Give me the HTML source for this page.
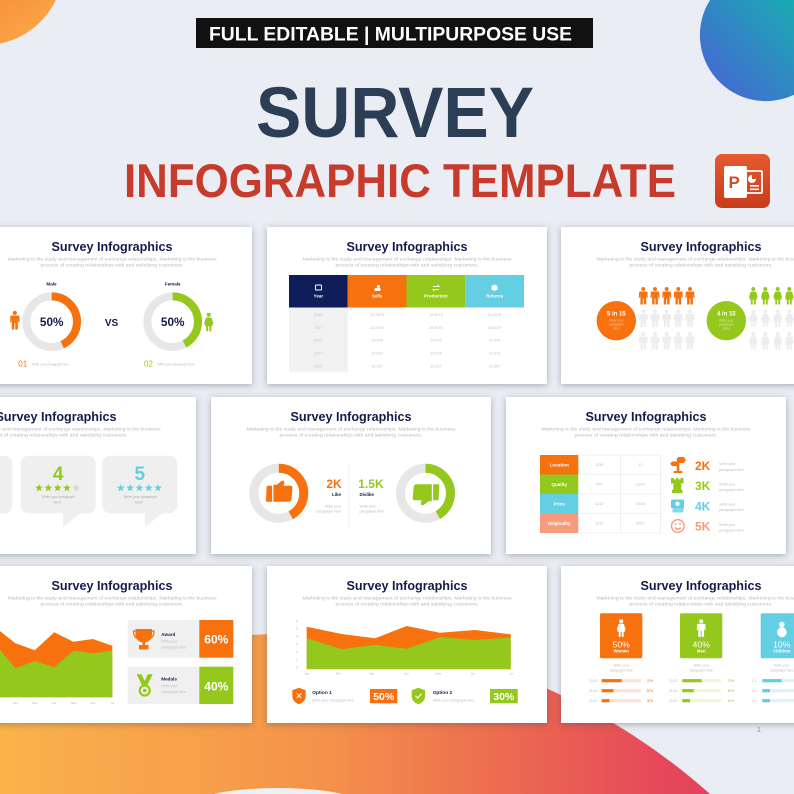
<!DOCTYPE html>
<html><head><meta charset="utf-8">
<style>
html,body{margin:0;padding:0;background:#eaedf4;overflow:hidden;width:794px;height:794px;}
svg{display:block;}
text{font-family:"Liberation Sans",Arial,sans-serif;}
</style></head><body>
<svg width="794" height="794" viewBox="0 0 794 794" xmlns="http://www.w3.org/2000/svg">
<defs>
  <linearGradient id="gBot" gradientUnits="userSpaceOnUse" x1="0" y1="0" x2="720" y2="0">
    <stop offset="0" stop-color="#fbb34b"/>
    <stop offset="0.45" stop-color="#f4924a"/>
    <stop offset="0.7" stop-color="#ec6b50"/>
    <stop offset="0.92" stop-color="#e5485a"/>
    <stop offset="1" stop-color="#e2415b"/>
  </linearGradient>
  <linearGradient id="gOr" x1="0" y1="0" x2="1" y2="1">
    <stop offset="0" stop-color="#f7923c"/>
    <stop offset="1" stop-color="#fbae4a"/>
  </linearGradient>
  <linearGradient id="gBl" x1="0" y1="1" x2="1" y2="0">
    <stop offset="0" stop-color="#4b5fd8"/>
    <stop offset="1" stop-color="#1aabb2"/>
  </linearGradient>
  <linearGradient id="gPP" x1="0" y1="0" x2="0" y2="1">
    <stop offset="0" stop-color="#e65a30"/>
    <stop offset="1" stop-color="#c73d1c"/>
  </linearGradient>
  <filter id="sh" x="-10%" y="-15%" width="120%" height="130%"><feDropShadow dx="0" dy="1.5" stdDeviation="3.5" flood-color="#3e4556" flood-opacity="0.4"/></filter>
  <symbol id="man" viewBox="0 0 10 20"><circle cx="5" cy="2.2" r="2.2"/><path d="M1.2,5 H8.8 Q9.6,5 9.7,6 L10,12 H8.6 L8.2,8 V19.5 H5.5 V13 H4.5 V19.5 H1.8 V8 L1.4,12 H0 L0.3,6 Q0.4,5 1.2,5 Z"/></symbol>
  <symbol id="woman" viewBox="0 0 10 20"><circle cx="5" cy="2.2" r="2.2"/><path d="M3,5 H7 Q8,5 8.3,6 L10,12 H8.7 L7.4,8.5 L9.4,14 H7.7 V19.5 H5.6 V14 H4.4 V19.5 H2.3 V14 H0.6 L2.6,8.5 L1.3,12 H0 L1.7,6 Q2,5 3,5 Z"/></symbol>
  <symbol id="star" viewBox="0 0 10 10"><path d="M5,0 L6.2,3.6 L10,3.7 L7,6 L8.1,9.6 L5,7.5 L1.9,9.6 L3,6 L0,3.7 L3.8,3.6 Z"/></symbol>
  <g id="hdr">
    <text x="140" y="24" text-anchor="middle" font-family="Liberation Sans, sans-serif" font-weight="bold" font-size="12.5" fill="#141b4b" textLength="121" lengthAdjust="spacingAndGlyphs">Survey Infographics</text>
    <text x="140" y="33.3" text-anchor="middle" font-family="Liberation Sans, sans-serif" font-size="4.3" fill="#b9b9b9" textLength="209" lengthAdjust="spacingAndGlyphs">Marketing is the study and management of exchange relationships. Marketing is the business</text>
    <text x="140" y="39.3" text-anchor="middle" font-family="Liberation Sans, sans-serif" font-size="4.3" fill="#b9b9b9" textLength="143" lengthAdjust="spacingAndGlyphs">process of creating relationships with and satisfying customers.</text>
  </g>
  <path id="thumb" d="M-13,-5.5 h4.6 a0.8,0.8 0 0 1 0.8,0.8 v15.2 h-5.4 a0.8,0.8 0 0 1 -0.8,-0.8 z M-6.3,-6.5 L-3,-6.5 L1.5,-10 Q4.8,-11.8 4.6,-8 L3.8,-5.5 L10.5,-5.5 Q13,-5.5 12.8,-3 L11.8,8 Q11.3,10.5 8.8,10.5 L-6.3,10.5 Z"/>
</defs>

<rect width="794" height="794" fill="#eaedf4"/>
<path d="M0,0 H55.7 A78,78 0 0 1 0,43.5 Z" fill="url(#gOr)"/>
<path d="M710,0 A66,66 0 0 0 794,94.8 V0 Z" fill="url(#gBl)"/>
<path d="M0,704 A632,632 0 0 1 710,794 L0,794 Z" fill="url(#gBot)"/>
<path d="M213.7,794 A90,20 0 0 1 342.3,794 Z" fill="#eef0f6"/>

<!-- header -->
<rect x="196" y="18" width="397" height="30" fill="#111"/>
<text x="209" y="40.5" font-weight="bold" font-size="19" fill="#fff" textLength="363" lengthAdjust="spacingAndGlyphs">FULL EDITABLE | MULTIPURPOSE USE</text>
<text x="256" y="137" font-weight="bold" font-size="71" fill="#2c3e55" textLength="278" lengthAdjust="spacingAndGlyphs">SURVEY</text>
<text x="124" y="197" font-weight="bold" font-size="47" fill="#c63b2c" textLength="552" lengthAdjust="spacingAndGlyphs">INFOGRAPHIC TEMPLATE</text>
<rect x="715" y="154" width="55" height="54" rx="7" fill="url(#gPP)"/>
<rect x="746" y="171" width="16" height="22" rx="1" fill="none" stroke="#fff" stroke-width="1.8"/>
<path d="M752,175 a4,4 0 1 0 4,4 h-4 z" fill="#fff"/>
<rect x="750" y="185" width="9" height="1.6" fill="#fff"/>
<rect x="750" y="188.5" width="9" height="1.6" fill="#fff"/>
<rect x="724" y="166" width="23" height="32" rx="2" fill="#fff"/>
<text x="728.5" y="188" font-weight="bold" font-size="17" fill="#d34a26">P</text>

<!-- S1 -->
<g transform="translate(-28,227)">
<rect width="280" height="157" fill="#fff" filter="url(#sh)"/>
<use href="#hdr"/>
<text x="79.5" y="58.7" text-anchor="middle" font-weight="bold" font-size="4.6" fill="#141b4b">Male</text>
<text x="200.7" y="58.7" text-anchor="middle" font-weight="bold" font-size="4.6" fill="#141b4b">Female</text>
<circle cx="79.7" cy="94.7" r="25.3" fill="none" stroke="#e7e7e7" stroke-width="8"/>
<circle cx="79.7" cy="94.7" r="25.3" fill="none" stroke="#f7720e" stroke-width="8" stroke-dasharray="68.5 200" transform="rotate(-90 79.7 94.7)"/>
<text x="79.7" y="99" text-anchor="middle" font-weight="bold" font-size="12" fill="#141b4b" textLength="23.6" lengthAdjust="spacingAndGlyphs">50%</text>
<use href="#man" x="38" y="83.7" width="9.6" height="19.3" fill="#f7720e"/>
<text x="139.5" y="99" text-anchor="middle" font-weight="bold" font-size="10" fill="#141b4b">VS</text>
<circle cx="200.7" cy="94.7" r="25.3" fill="none" stroke="#e7e7e7" stroke-width="8"/>
<circle cx="200.7" cy="94.7" r="25.3" fill="none" stroke="#95c81d" stroke-width="8" stroke-dasharray="67 200" transform="rotate(-90 200.7 94.7)"/>
<text x="200.7" y="99" text-anchor="middle" font-weight="bold" font-size="12" fill="#141b4b" textLength="23.6" lengthAdjust="spacingAndGlyphs">50%</text>
<use href="#woman" x="232" y="85.7" width="9.5" height="19" fill="#95c81d"/>
<text x="46.3" y="139.7" font-size="8" fill="#f7720e">01</text>
<text x="60" y="138.7" font-size="3.2" fill="#bdbdbd">Write your paragraph here</text>
<text x="172" y="139.7" font-size="8" fill="#95c81d">02</text>
<text x="185.5" y="138.7" font-size="3.2" fill="#bdbdbd">Write your paragraph here</text>
</g>

<!-- S2 -->
<g transform="translate(267,227)">
<rect width="280" height="157" fill="#fff" filter="url(#sh)"/>
<use href="#hdr"/>
<rect x="22" y="80.5" width="58.75" height="64.2" fill="#f1f1f1"/>
<rect x="22" y="48" width="58.75" height="32.5" fill="#0f1e5a"/>
<rect x="80.75" y="48" width="58.75" height="32.5" fill="#f7720e"/>
<rect x="139.5" y="48" width="58.75" height="32.5" fill="#95c81d"/>
<rect x="198.25" y="48" width="58.75" height="32.5" fill="#64cfe2"/>
<rect x="48.5" y="58" width="6" height="5" rx="0.8" fill="none" stroke="#fff" stroke-width="1"/>
<circle cx="111.5" cy="59.5" r="1.6" fill="#fff"/><rect x="107.5" y="61" width="6" height="3" rx="0.8" fill="#fff"/>
<path d="M166,59.5h6l-1.5,-1.5M172,62.5h-6l1.5,1.5" stroke="#fff" stroke-width="0.9" fill="none"/>
<path d="M227.6,57.5l3,1.5v3.5l-3,1.5l-3,-1.5v-3.5z" fill="#fff"/>
<g font-weight="bold" font-size="4.5" fill="#fff" text-anchor="middle">
<text x="51.4" y="70.3">Year</text><text x="110.1" y="70.3">Sells</text><text x="168.9" y="70.3">Production</text><text x="227.6" y="70.3">Returns</text>
</g>
<g font-size="3.8" fill="#c4c4c4" text-anchor="middle">
<text x="51.4" y="89.2">2016</text><text x="110.1" y="89.2">10,9678</text><text x="168.9" y="89.2">10,9678</text><text x="227.6" y="89.2">10,9678</text>
<text x="51.4" y="102">2017</text><text x="110.1" y="102">28,5675</text><text x="168.9" y="102">28,5675</text><text x="227.6" y="102">28,5675</text>
<text x="51.4" y="114.7">2018</text><text x="110.1" y="114.7">19,545</text><text x="168.9" y="114.7">19,545</text><text x="227.6" y="114.7">19,545</text>
<text x="51.4" y="127.6">2019</text><text x="110.1" y="127.6">12,029</text><text x="168.9" y="127.6">12,029</text><text x="227.6" y="127.6">12,029</text>
<text x="51.4" y="140.3">2020</text><text x="110.1" y="140.3">10,567</text><text x="168.9" y="140.3">10,567</text><text x="227.6" y="140.3">10,567</text>
</g>
</g>

<!-- S3 -->
<g transform="translate(561,227)">
<rect width="280" height="157" fill="#fff" filter="url(#sh)"/>
<use href="#hdr"/>
<circle cx="55.3" cy="93.7" r="19.7" fill="#f7720e"/>
<text x="55.3" y="88.7" text-anchor="middle" font-weight="bold" font-size="6" fill="#fff">5 in 15</text>
<g text-anchor="middle" font-size="3.2" fill="#fcc29a"><text x="55.3" y="94.5">Write your</text><text x="55.3" y="98.5">paragraph</text><text x="55.3" y="102.5">here</text></g>
<circle cx="165.3" cy="93.7" r="19.7" fill="#95c81d"/>
<text x="165.3" y="88.7" text-anchor="middle" font-weight="bold" font-size="6" fill="#fff">4 in 15</text>
<g text-anchor="middle" font-size="3.2" fill="#d3ea9e"><text x="165.3" y="94.5">Write your</text><text x="165.3" y="98.5">paragraph</text><text x="165.3" y="102.5">here</text></g>
<g fill="#f7720e">
<use href="#man" x="77.8" y="60" width="9" height="18"/><use href="#man" x="89.5" y="60" width="9" height="18"/><use href="#man" x="101.2" y="60" width="9" height="18"/><use href="#man" x="112.8" y="60" width="9" height="18"/><use href="#man" x="124.5" y="60" width="9" height="18"/>
</g>
<g fill="#ededed">
<use href="#man" x="77.8" y="82.5" width="9" height="18"/><use href="#man" x="89.5" y="82.5" width="9" height="18"/><use href="#man" x="101.2" y="82.5" width="9" height="18"/><use href="#man" x="112.8" y="82.5" width="9" height="18"/><use href="#man" x="124.5" y="82.5" width="9" height="18"/>
<use href="#man" x="77.8" y="105" width="9" height="18"/><use href="#man" x="89.5" y="105" width="9" height="18"/><use href="#man" x="101.2" y="105" width="9" height="18"/><use href="#man" x="112.8" y="105" width="9" height="18"/><use href="#man" x="124.5" y="105" width="9" height="18"/>
<use href="#woman" x="187.8" y="82.5" width="9" height="18"/><use href="#woman" x="199.8" y="82.5" width="9" height="18"/><use href="#woman" x="212.2" y="82.5" width="9" height="18"/><use href="#woman" x="223.8" y="82.5" width="9" height="18"/><use href="#woman" x="235.5" y="82.5" width="9" height="18"/>
<use href="#woman" x="187.8" y="105" width="9" height="18"/><use href="#woman" x="199.8" y="105" width="9" height="18"/><use href="#woman" x="212.2" y="105" width="9" height="18"/><use href="#woman" x="223.8" y="105" width="9" height="18"/><use href="#woman" x="235.5" y="105" width="9" height="18"/>
</g>
<g fill="#95c81d">
<use href="#woman" x="187.8" y="60" width="9" height="18"/><use href="#woman" x="199.8" y="60" width="9" height="18"/><use href="#woman" x="212.2" y="60" width="9" height="18"/><use href="#woman" x="223.8" y="60" width="9" height="18"/>
</g>
<use href="#woman" x="235.5" y="60" width="9" height="18" fill="#ededed"/>
</g>

<!-- S4 -->
<g transform="translate(-84,397)">
<rect width="280" height="157" fill="#fff" filter="url(#sh)"/>
<use href="#hdr"/>
<g fill="#efefef">
<rect x="21.3" y="58.7" width="75" height="57.6" rx="8"/>
<rect x="104.7" y="58.7" width="75" height="57.6" rx="8"/>
<polygon points="147,115 147,130 166,115"/>
<rect x="186.3" y="58.7" width="75" height="57.6" rx="8"/>
<polygon points="229,115 229,130 248,115"/>
</g>
<text x="142.2" y="83" text-anchor="middle" font-weight="bold" font-size="19" fill="#95c81d">4</text>
<g fill="#95c81d">
<use href="#star" x="119" y="86.7" width="8" height="8"/><use href="#star" x="128.3" y="86.7" width="8" height="8"/><use href="#star" x="137.6" y="86.7" width="8" height="8"/><use href="#star" x="146.9" y="86.7" width="8" height="8"/>
</g>
<use href="#star" x="156.2" y="86.7" width="8" height="8" fill="#d6d6d6"/>
<text x="223.8" y="83" text-anchor="middle" font-weight="bold" font-size="19" fill="#64cfe2">5</text>
<g fill="#64cfe2">
<use href="#star" x="200.8" y="86.7" width="8" height="8"/><use href="#star" x="210.1" y="86.7" width="8" height="8"/><use href="#star" x="219.4" y="86.7" width="8" height="8"/><use href="#star" x="228.7" y="86.7" width="8" height="8"/><use href="#star" x="238" y="86.7" width="8" height="8"/>
</g>
<g text-anchor="middle" font-size="3.5" fill="#ababab">
<text x="142.2" y="101">“Write your paragraph</text><text x="142.2" y="106.5">here”.</text>
<text x="223.8" y="101">“Write your paragraph</text><text x="223.8" y="106.5">here”.</text>
</g>
</g>

<!-- S5 -->
<g transform="translate(211,397)">
<rect width="280" height="157" fill="#fff" filter="url(#sh)"/>
<use href="#hdr"/>
<circle cx="67.8" cy="96.3" r="25" fill="none" stroke="#e7e7e7" stroke-width="9"/>
<circle cx="67.8" cy="96.3" r="25" fill="none" stroke="#f7720e" stroke-width="9" stroke-dasharray="66 200" transform="rotate(-90 67.8 96.3)"/>
<use href="#thumb" transform="translate(68.7,94.2)" fill="#f7720e"/>
<text x="130.7" y="91" text-anchor="end" font-weight="bold" font-size="12" fill="#f7720e">2K</text>
<text x="130" y="99" text-anchor="end" font-weight="bold" font-size="4.5" fill="#141b4b">Like</text>
<g font-size="3.6" fill="#b9b9b9"><text x="130" y="110.3" text-anchor="end">Write your</text><text x="130" y="115.7" text-anchor="end">paragraph here</text>
<text x="148.5" y="110.3">Write your</text><text x="148.5" y="115.7">paragraph here</text></g>
<line x1="138" y1="67" x2="138" y2="130" stroke="#ececec" stroke-width="0.8"/>
<text x="147.3" y="91" font-weight="bold" font-size="12" fill="#95c81d">1.5K</text>
<text x="148.5" y="99" font-weight="bold" font-size="4.5" fill="#141b4b">Dislike</text>
<circle cx="214.5" cy="96.3" r="25" fill="none" stroke="#e7e7e7" stroke-width="9"/>
<circle cx="214.5" cy="96.3" r="25" fill="none" stroke="#95c81d" stroke-width="9" stroke-dasharray="65.5 200" transform="rotate(-90 214.5 96.3)"/>
<use href="#thumb" transform="translate(214.5,97.8) rotate(180)" fill="#95c81d"/>
</g>

<!-- S6 -->
<g transform="translate(506,397)">
<rect width="280" height="157" fill="#fff" filter="url(#sh)"/>
<use href="#hdr"/>
<rect x="34" y="58" width="38.3" height="19.5" fill="#f7720e"/>
<rect x="34" y="77.5" width="38.3" height="19.5" fill="#95c81d"/>
<rect x="34" y="97" width="38.3" height="19.5" fill="#64cfe2"/>
<rect x="34" y="116.5" width="38.3" height="19.5" fill="#f69c7d"/>
<g stroke="#e6e6e6" stroke-width="0.6">
<line x1="72.3" y1="58" x2="154.7" y2="58"/><line x1="72.3" y1="77.5" x2="154.7" y2="77.5"/><line x1="72.3" y1="97" x2="154.7" y2="97"/><line x1="72.3" y1="116.5" x2="154.7" y2="116.5"/><line x1="72.3" y1="136" x2="154.7" y2="136"/>
<line x1="114.3" y1="58" x2="114.3" y2="136"/><line x1="154.7" y1="58" x2="154.7" y2="136"/>
</g>
<g font-weight="bold" font-size="4.6" fill="#fff" text-anchor="middle">
<text x="53.2" y="69.3">Location</text><text x="53.2" y="88.8">Quality</text><text x="53.2" y="108.3">Price</text><text x="53.2" y="127.8">Originality</text>
</g>
<g font-size="3.8" fill="#bdbdbd" text-anchor="middle">
<text x="93.3" y="69">1234</text><text x="134.5" y="69">12</text>
<text x="93.3" y="88.5">570</text><text x="134.5" y="88.5">2343</text>
<text x="93.3" y="108">1212</text><text x="134.5" y="108">5454</text>
<text x="93.3" y="127.5">1212</text><text x="134.5" y="127.5">6557</text>
</g>
<g fill="#f7720e"><rect x="170.8" y="61" width="2.5" height="14"/><path d="M172,60 h6 l1.8,3 l-1.8,3 h-6 z"/><path d="M171,64.5 h-5 l-1.8,2.3 l1.8,2.3 h5 z"/><rect x="167.5" y="74" width="9" height="2" rx="0.8"/></g>
<g fill="#95c81d"><path d="M165,81 h3 v1.5 h2 v-1.5 h2.5 v1.5 h2 v-1.5 h3 v5.5 h-12.5 z"/><rect x="167.3" y="86.5" width="8" height="6" rx="1"/><rect x="166" y="92.5" width="10.5" height="3.8" rx="0.8"/></g>
<g fill="#64cfe2"><rect x="165" y="102.5" width="13" height="8.5" rx="1"/><rect x="166.5" y="108.5" width="11" height="7" rx="1" opacity="0.8"/><circle cx="171.5" cy="106.8" r="2.2" fill="#fff"/></g>
<g fill="none" stroke="#f69c7d" stroke-width="1.4"><circle cx="171.8" cy="129" r="6.3"/><path d="M168.8,130.5 Q171.8,134 174.8,130.5"/></g>
<circle cx="169.6" cy="127.2" r="0.9" fill="#f69c7d"/><circle cx="174" cy="127.2" r="0.9" fill="#f69c7d"/>
<g font-weight="bold" font-size="12">
<text x="189" y="73" fill="#f7720e">2K</text><text x="189" y="93" fill="#95c81d">3K</text><text x="189" y="113.7" fill="#64cfe2">4K</text><text x="189" y="133.7" fill="#f69c7d">5K</text>
</g>
<g font-size="3.6" fill="#bdbdbd">
<text x="213.3" y="68">Write your</text><text x="213.3" y="74">paragraph here</text>
<text x="213.3" y="88.5">Write your</text><text x="213.3" y="94">paragraph here</text>
<text x="213.3" y="108.5">Write your</text><text x="213.3" y="114">paragraph here</text>
<text x="213.3" y="129">Write your</text><text x="213.3" y="134.5">paragraph here</text>
</g>
</g>

<!-- S7 -->
<g transform="translate(-28,566)">
<rect width="280" height="157" fill="#fff" filter="url(#sh)"/>
<use href="#hdr"/>
<polygon points="24,131.3 24,62 43.4,77.3 62.8,84.3 82.2,66.3 101.5,75.7 120.9,73 140.3,79.7 140.3,131.3" fill="#f7720e"/>
<polygon points="24,131.3 24,79 43.4,102.3 62.8,95 82.2,101.3 101.5,84.8 120.9,87.3 140.3,84.8 140.3,131.3" fill="#95c81d"/>
<g font-size="3" fill="#b5b5b5" text-anchor="middle">
<text x="24" y="138">Jan</text><text x="43.4" y="138">Feb</text><text x="62.8" y="138">Mar</text><text x="82.2" y="138">Apr</text><text x="101.5" y="138">May</text><text x="120.9" y="138">Jun</text><text x="140.3" y="138">Jul</text>
</g>
<rect x="155.7" y="54" width="71.6" height="37.7" fill="#f0f0f0"/>
<rect x="227.3" y="54" width="34" height="37.7" fill="#f7720e"/>
<text x="244.3" y="77.3" text-anchor="middle" font-weight="bold" font-size="12" fill="#fff">60%</text>
<path d="M163.5,63 H180 V68 Q180,75 173,76.5 V79 H176.5 V83.5 H167 V79 H170.5 V76.5 Q163.5,75 163.5,68 Z" fill="#f7720e"/>
<path d="M163.8,65 H161.5 Q161.5,71 165.5,72.5 M179.7,65 H182 Q182,71 178,72.5" stroke="#f7720e" stroke-width="1.3" fill="none"/>
<text x="189.3" y="70" font-weight="bold" font-size="4.6" fill="#141b4b">Award</text>
<g font-size="3.6" fill="#bdbdbd"><text x="189.3" y="76.5">Write your</text><text x="189.3" y="82.3">paragraph here</text></g>
<rect x="155.7" y="100.7" width="71.6" height="37.3" fill="#f0f0f0"/>
<rect x="227.3" y="100.7" width="34" height="37.3" fill="#95c81d"/>
<text x="244.3" y="124.7" text-anchor="middle" font-weight="bold" font-size="12" fill="#fff">40%</text>
<polygon points="164.7,108.3 169.5,108.3 172.7,115 175.9,108.3 180.7,108.3 175.5,119 169.9,119" fill="#95c81d"/>
<circle cx="172.7" cy="124.5" r="5" fill="none" stroke="#95c81d" stroke-width="2.2"/>
<circle cx="172.7" cy="124.5" r="1.8" fill="#95c81d"/>
<text x="189.3" y="114.7" font-weight="bold" font-size="4.6" fill="#141b4b">Medals</text>
<g font-size="3.6" fill="#bdbdbd"><text x="189.3" y="121">Write your</text><text x="189.3" y="127">paragraph here</text></g>
</g>

<!-- S8 -->
<g transform="translate(267,566)">
<rect width="280" height="157" fill="#fff" filter="url(#sh)"/>
<use href="#hdr"/>
<g font-size="3" fill="#b5b5b5" text-anchor="middle">
<text x="29.7" y="56">6</text><text x="29.7" y="63.7">5</text><text x="29.7" y="71.3">4</text><text x="29.7" y="79">3</text><text x="29.7" y="87">2</text><text x="29.7" y="94.7">1</text><text x="29.7" y="102.3">0</text>
<text x="39.7" y="108.3">Jan</text><text x="71.3" y="108.3">Feb</text><text x="104.7" y="108.3">Mar</text><text x="139.7" y="108.3">Apr</text><text x="171.3" y="108.3">May</text><text x="205.7" y="108.3">Jun</text><text x="244.7" y="108.3">Jul</text>
</g>
<polygon points="39.7,103 39.7,60.7 74.7,68 108,72.3 139.7,60 173,66.7 208,64 243.7,68.3 243.7,103" fill="#f7720e"/>
<polygon points="39.7,103 39.7,72.3 74.7,83.3 108,79 139.7,82.7 173,71.3 208,74 243.7,71.7 243.7,103" fill="#95c81d"/>
<line x1="39.7" y1="103.3" x2="245" y2="103.3" stroke="#d3e8a0" stroke-width="0.6"/>
<g transform="translate(25.3,121.7)"><path d="M0,2.5 L6.7,0 L13.4,2.5 V8 Q13.4,14 6.7,16.6 Q0,14 0,8 Z" fill="#f7720e"/><path d="M4.3,5.6 L9.1,10.4 M9.1,5.6 L4.3,10.4" stroke="#fff" stroke-width="0.9"/></g>
<text x="45.3" y="128" font-weight="bold" font-size="4.8" fill="#141b4b">Option 1</text>
<text x="45.3" y="135.7" font-size="3.6" fill="#bdbdbd">Write your paragraph here</text>
<rect x="103" y="123" width="27.3" height="14.3" fill="#f7720e"/>
<text x="116.7" y="134.2" text-anchor="middle" font-weight="bold" font-size="10.5" fill="#fff">50%</text>
<g transform="translate(144.7,121.7)"><path d="M0,2.5 L6.7,0 L13.4,2.5 V8 Q13.4,14 6.7,16.6 Q0,14 0,8 Z" fill="#95c81d"/><path d="M3.8,8.2 L6,10.4 L9.8,6" stroke="#fff" stroke-width="1.1" fill="none"/></g>
<text x="165.7" y="128" font-weight="bold" font-size="4.8" fill="#141b4b">Option 2</text>
<text x="165.7" y="135.7" font-size="3.6" fill="#bdbdbd">Write your paragraph here</text>
<rect x="223" y="123" width="27.7" height="14.3" fill="#95c81d"/>
<text x="236.8" y="134.2" text-anchor="middle" font-weight="bold" font-size="10.5" fill="#fff">30%</text>
</g>

<!-- S9 -->
<g transform="translate(561,566)">
<rect width="280" height="157" fill="#fff" filter="url(#sh)"/>
<use href="#hdr"/>
<rect x="39" y="47.3" width="42.3" height="45" rx="1.5" fill="#f7720e"/>
<rect x="119" y="47.3" width="42.3" height="45" rx="1.5" fill="#95c81d"/>
<rect x="199.7" y="47.3" width="42.3" height="45" rx="1.5" fill="#64cfe2"/>
<use href="#woman" x="55.7" y="53.3" width="9" height="18" fill="#fff"/>
<use href="#man" x="135.7" y="53.3" width="9" height="18" fill="#fff"/>
<circle cx="220.8" cy="58.5" r="2.8" fill="#fff"/><ellipse cx="220.8" cy="66.3" rx="4.8" ry="5" fill="#fff"/>
<g text-anchor="middle" fill="#fff">
<text x="60.2" y="81.3" font-size="8.7">50%</text><text x="60.2" y="86.7" font-size="4.3" font-weight="bold">Women</text>
<text x="140.2" y="81.3" font-size="8.7">40%</text><text x="140.2" y="86.7" font-size="4.3" font-weight="bold">Men</text>
<text x="220.8" y="81.3" font-size="8.7">10%</text><text x="220.8" y="86.7" font-size="4.3" font-weight="bold">Children</text>
</g>
<g text-anchor="middle" font-size="3.4" fill="#bdbdbd">
<text x="60.2" y="100.7">Write your</text><text x="60.2" y="105.3">paragraph here</text>
<text x="140.2" y="100.7">Write your</text><text x="140.2" y="105.3">paragraph here</text>
<text x="220.8" y="100.7">Write your</text><text x="220.8" y="105.3">paragraph here</text>
</g>
<g font-size="3.2" fill="#c0c0c0" text-anchor="middle">
<text x="32" y="115.8">18-25</text><text x="32" y="125.8">26-38</text><text x="32" y="135.8">39-50</text>
<text x="112" y="115.8">18-25</text><text x="112" y="125.8">26-38</text><text x="112" y="135.8">39-50</text>
<text x="193" y="115.8">1-3</text><text x="193" y="125.8">4-6</text><text x="193" y="135.8">7-9</text>
</g>
<g fill="#fde3d5"><rect x="40.7" y="113.1" width="39" height="3.2"/><rect x="40.7" y="123.1" width="39" height="3.2"/><rect x="40.7" y="133.1" width="39" height="3.2"/></g>
<g fill="#f7720e"><rect x="40.7" y="113.1" width="20" height="3.2"/><rect x="40.7" y="123.1" width="11.7" height="3.2"/><rect x="40.7" y="133.1" width="7.7" height="3.2"/></g>
<g fill="#eef7d6"><rect x="121.3" y="113.1" width="38.7" height="3.2"/><rect x="121.3" y="123.1" width="38.7" height="3.2"/><rect x="121.3" y="133.1" width="38.7" height="3.2"/></g>
<g fill="#95c81d"><rect x="121.3" y="113.1" width="19.4" height="3.2"/><rect x="121.3" y="123.1" width="11.4" height="3.2"/><rect x="121.3" y="133.1" width="7.7" height="3.2"/></g>
<g fill="#ddf3f8"><rect x="201.3" y="113.1" width="38.7" height="3.2"/><rect x="201.3" y="123.1" width="38.7" height="3.2"/><rect x="201.3" y="133.1" width="38.7" height="3.2"/></g>
<g fill="#64cfe2"><rect x="201.3" y="113.1" width="19.3" height="3.2"/><rect x="201.3" y="123.1" width="7.7" height="3.2"/><rect x="201.3" y="133.1" width="7.7" height="3.2"/></g>
<g font-size="3.2">
<text x="85.7" y="115.8" fill="#f7720e">70%</text><text x="85.7" y="125.8" fill="#f7720e">50%</text><text x="85.7" y="135.8" fill="#f7720e">30%</text>
<text x="166.7" y="115.8" fill="#95c81d">70%</text><text x="166.7" y="125.8" fill="#95c81d">50%</text><text x="166.7" y="135.8" fill="#95c81d">30%</text>
</g>
</g>

<text x="759" y="732" text-anchor="middle" font-size="7" fill="#8a8a8a">1</text>
</svg>
</body></html>
